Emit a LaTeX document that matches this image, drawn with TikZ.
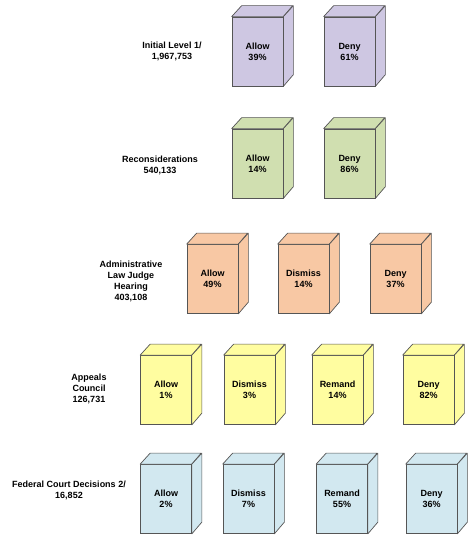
\documentclass[tikz,border=0pt]{standalone}
\usepackage{fontspec}
\setmainfont{Liberation Sans}
\definecolor{cpurple}{RGB}{206,199,226}
\definecolor{cgreen}{RGB}{208,223,176}
\definecolor{corange}{RGB}{248,200,164}
\definecolor{cyellow}{RGB}{255,253,160}
\definecolor{cblue}{RGB}{210,232,240}
\definecolor{cedge}{RGB}{85,85,85}
\tikzset{
  face/.style={draw=cedge, line width=0.7pt, minimum width=51pt, minimum height=69pt,
    inner sep=0pt, align=center, font=\bfseries\fontsize{9}{11}\selectfont},
  sideface/.style={draw=cedge, line width=0.7pt, line join=round},
  rowlabel/.style={align=center, font=\bfseries\fontsize{9}{11}\selectfont}
}
\newcommand{\cubebox}[5]{%
  \node[face, fill=#4] (#1) at (#2,543-#3) {#5};
  \filldraw[sideface, fill=#4] (#1.north west) -- ++(10,11) -- ++(51,0) -- (#1.north east) -- cycle;
  \filldraw[sideface, fill=#4] (#1.north east) -- ++(10,11) -- ++(0,-69) -- (#1.south east) -- cycle;
  \draw[cedge, line width=1.2pt] (#1.north east) -- (#1.south east);
}
\begin{document}
\begin{tikzpicture}[x=1pt,y=1pt]
\useasboundingbox (0,0) rectangle (474,543);
% row 1
\node[rowlabel] (l1) at (172,543-51.5) {Initial Level 1/\\1,967,753};
\cubebox{a1}{257.5}{51.5}{cpurple}{Allow\\39\%}
\cubebox{d1}{349.5}{51.5}{cpurple}{Deny\\61\%}
% row 2
\node[rowlabel] (l2) at (160,543-165) {Reconsiderations\\540,133};
\cubebox{a2}{257.5}{163.5}{cgreen}{Allow\\14\%}
\cubebox{d2}{349.5}{163.5}{cgreen}{Deny\\86\%}
% row 3
\node[rowlabel] (l3) at (131,543-281.5) {Administrative\\Law Judge\\Hearing\\403,108};
\cubebox{a3}{212.5}{279}{corange}{Allow\\49\%}
\cubebox{m3}{303.5}{279}{corange}{Dismiss\\14\%}
\cubebox{d3}{395.5}{279}{corange}{Deny\\37\%}
% row 4
\node[rowlabel] (l4) at (89,543-388.5) {Appeals\\Council\\126,731};
\cubebox{a4}{166}{390}{cyellow}{Allow\\1\%}
\cubebox{m4}{249.5}{390}{cyellow}{Dismiss\\3\%}
\cubebox{r4}{337.5}{390}{cyellow}{Remand\\14\%}
\cubebox{d4}{428.5}{390}{cyellow}{Deny\\82\%}
% row 5
\node[rowlabel] (l5) at (69,543-490) {Federal Court Decisions 2/\\16,852};
\cubebox{a5}{166}{499}{cblue}{Allow\\2\%}
\cubebox{m5}{248.5}{499}{cblue}{Dismiss\\7\%}
\cubebox{r5}{342}{499}{cblue}{Remand\\55\%}
\cubebox{d5}{431.5}{499}{cblue}{Deny\\36\%}
\end{tikzpicture}
\end{document}
